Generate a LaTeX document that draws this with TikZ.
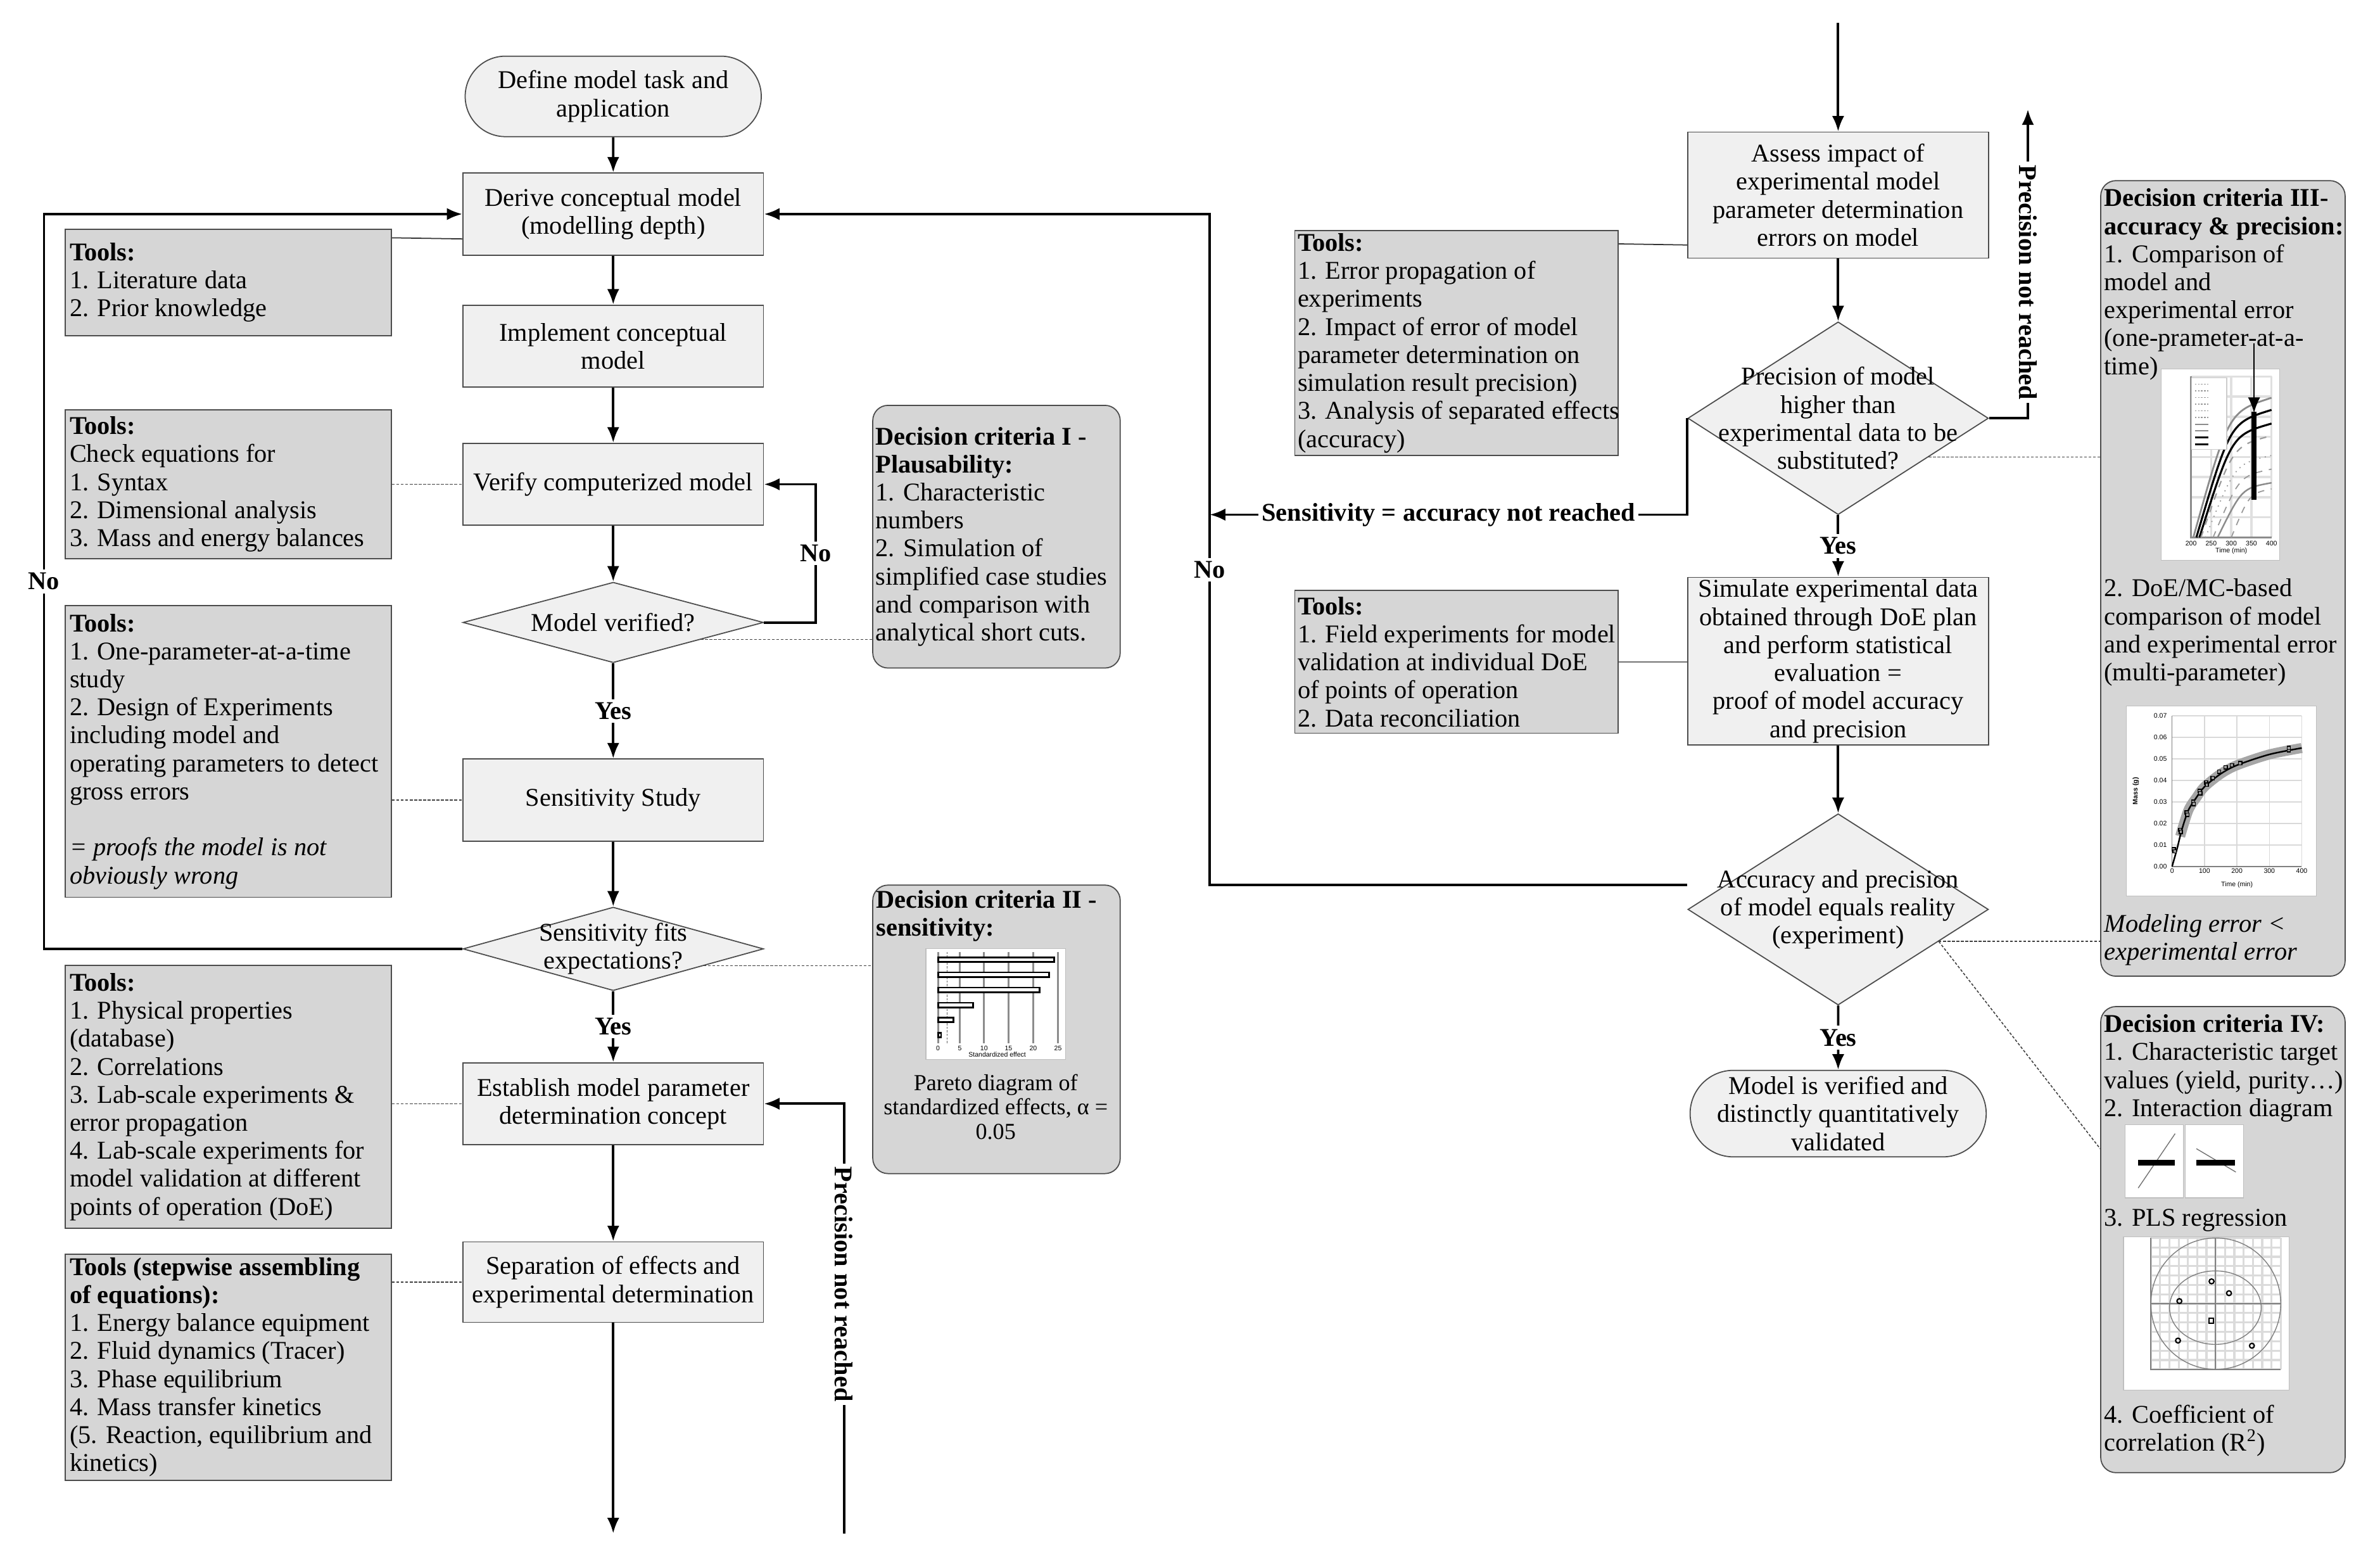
\documentclass[tikz,border=0pt]{standalone}
\usepackage{fontspec}
\setmainfont{Liberation Serif}
\newfontfamily\chartfont{Liberation Sans}
\usetikzlibrary{arrows.meta,shapes.geometric,shapes.misc,calc}
\newlength\pxu
\setlength\pxu{0.024cm}
\newcommand\myfs{\fontsize{11.5}{12.6}\selectfont}
\newcommand\myfsc{\fontsize{10.3}{11}\selectfont}
\newcommand\mytiny{\chartfont\fontsize{3}{3.5}\selectfont}
\tikzset{
  proc/.style={draw=black!70, line width=0.5pt, fill=black!6, minimum width=198\pxu, minimum height=54\pxu, align=center, font=\myfs, inner sep=1pt},
  term/.style={proc, rounded rectangle},
  dia/.style={diamond, draw=black!70, line width=0.5pt, fill=black!6, inner sep=0pt},
  dtxt/.style={align=center, font=\myfs, inner sep=0pt},
  toolbox/.style={draw=black!70, line width=0.5pt, fill=black!16, inner sep=0pt},
  crit/.style={draw=black!70, line width=0.5pt, fill=black!16, rounded corners=10\pxu, inner sep=0pt},
  ctxt/.style={align=left, font=\myfs, inner sep=0pt},
  flow/.style={line width=1.1pt, -{Latex[length=7pt,width=5.5pt]}},
  lbl/.style={font=\myfs\bfseries, fill=white, inner sep=1.5pt},
  dotc/.style={line width=0.45pt, draw=black!75, dash pattern=on 1.2pt off 0.8pt},
  thinc/.style={line width=0.5pt, draw=black!80},
  chartbg/.style={fill=white, draw=black!25, line width=0.3pt, inner sep=0pt},
}
\begin{document}
\begin{tikzpicture}[x=0.024cm,y=-0.024cm]
\fill[white] (0,0) rectangle (1568,1030);
\useasboundingbox (0,0) rectangle (1568,1030);

% ---------------- left column ----------------
\node[term, minimum height=53\pxu] (start) at (404,63.5) {Define model task and\\application};
\node[proc] (derive) at (404,141) {Derive conceptual model\\(modelling depth)};
\node[proc] (impl) at (404,228) {Implement conceptual\\model};
\node[proc] (verify) at (404,319) {Verify computerized model};
\node[dia, minimum width=198\pxu, minimum height=53\pxu] (dv) at (404,410) {};
\node[dtxt] (dvt) at (dv) {Model verified?};
\node[proc] (sens) at (404,527) {Sensitivity Study};
\node[dia, minimum width=198\pxu, minimum height=55\pxu] (ds) at (404,625) {};
\node[dtxt] (dst) at (ds) {Sensitivity fits\\expectations?};
\node[proc] (est) at (404,727) {Establish model parameter\\determination concept};
\node[proc, minimum height=53\pxu] (sep) at (404,844.5) {Separation of effects and\\experimental determination};
\coordinate (lbot) at (404,1010);
\coordinate (pbot) at (556,1010);

% ---------------- right column ----------------
\coordinate (rtop) at (1211,15);
\node[proc, minimum height=83\pxu] (assess) at (1211,128.5) {Assess impact of\\experimental model\\parameter determination\\errors on model};
\node[dia, minimum width=198\pxu, minimum height=127\pxu] (dp) at (1211,275.5) {};
\node[dtxt] (dpt) at (dp) {Precision of model\\higher than\\experimental data to be\\substituted?};
\node[proc, minimum height=109\pxu] (sim) at (1211,435.5) {Simulate experimental data\\obtained through DoE plan\\and perform statistical\\evaluation =\\proof of model accuracy\\and precision};
\node[dia, minimum width=198\pxu, minimum height=126\pxu] (da) at (1211,599) {};
\node[dtxt] (dat) at (da) {Accuracy and precision\\of model equals reality\\(experiment)};
\node[term, minimum height=57\pxu] (fin) at (1211,733.5) {Model is verified and\\distinctly quantitatively\\validated};
\coordinate (rtopp) at (1336,72);
\coordinate (sacc) at (797,339);

% ---------------- tools boxes ----------------
\node[toolbox, minimum width=215\pxu, minimum height=70\pxu] (t1) at (150.5,186) {};
\node[ctxt, anchor=west] (t1x) at ([xshift=3\pxu]t1.west) {\textbf{Tools:}\\1. Literature data\\2. Prior knowledge};
\node[toolbox, minimum width=215\pxu, minimum height=98\pxu] (t2) at (150.5,319) {};
\node[ctxt, anchor=west] (t2x) at ([xshift=3\pxu]t2.west) {\textbf{Tools:}\\Check equations for\\1. Syntax\\2. Dimensional analysis\\3. Mass and energy balances};
\node[toolbox, minimum width=215\pxu, minimum height=192\pxu] (t3) at (150.5,495) {};
\node[ctxt, anchor=west] (t3x) at ([xshift=3\pxu]t3.west) {\textbf{Tools:}\\1. One-parameter-at-a-time\\study\\2. Design of Experiments\\including model and\\operating parameters to detect\\gross errors\\\mbox{}\\\textit{= proofs the model is not}\\\textit{obviously wrong}};
\node[toolbox, minimum width=215\pxu, minimum height=173\pxu] (t4) at (150.5,722.5) {};
\node[ctxt, anchor=west] (t4x) at ([xshift=3\pxu]t4.west) {\textbf{Tools:}\\1. Physical properties\\(database)\\2. Correlations\\3. Lab-scale experiments \&\\error propagation\\4. Lab-scale experiments for\\model validation at different\\points of operation (DoE)};
\node[toolbox, minimum width=215\pxu, minimum height=149\pxu] (t5) at (150.5,900.5) {};
\node[ctxt, anchor=west] (t5x) at ([xshift=3\pxu]t5.west) {\textbf{Tools (stepwise assembling}\\\textbf{of equations):}\\1. Energy balance equipment\\2. Fluid dynamics (Tracer)\\3. Phase equilibrium\\4. Mass transfer kinetics\\(5. Reaction, equilibrium and\\kinetics)};
\node[toolbox, minimum width=213\pxu, minimum height=148\pxu] (rt1) at (959.5,226) {};
\node[ctxt, anchor=west] (rt1x) at ([xshift=2\pxu]rt1.west) {\textbf{Tools:}\\1. Error propagation of\\experiments\\2. Impact of error of model\\parameter determination on\\simulation result precision)\\3. Analysis of separated effects\\(accuracy)};
\node[toolbox, minimum width=213\pxu, minimum height=94\pxu] (rt2) at (959.5,436) {};
\node[ctxt, anchor=west] (rt2x) at ([xshift=2\pxu]rt2.west) {\textbf{Tools:}\\1. Field experiments for model\\validation at individual DoE\\of points of operation\\2. Data reconciliation};

% ---------------- decision criteria boxes ----------------
\node[crit, minimum width=163\pxu, minimum height=173\pxu] (c1) at (656.5,353.5) {};
\node[ctxt, anchor=west] (c1x) at ([xshift=2\pxu]c1.west) {\textbf{Decision criteria I -}\\\textbf{Plausability:}\\1. Characteristic\\numbers\\2. Simulation of\\simplified case studies\\and comparison with\\analytical short cuts.};

\node[crit, minimum width=163\pxu, minimum height=190\pxu] (c2) at (656.5,678) {};
\node[ctxt, anchor=north west] (c2h) at (577,586) {\textbf{Decision criteria II -}\\\textbf{sensitivity:}};
\node[align=center, font=\myfsc, inner sep=0pt] (c2c) at (656,729) {Pareto diagram of\\standardized effects, α =\\0.05};
% Pareto chart
\node[chartbg, minimum width=92\pxu, minimum height=73\pxu] (pa) at (656,661.5) {};
\foreach \gx in {618,632.3,648.3,664.4,680.7,697} \draw[black!45, line width=0.9pt] (\gx,627) -- (\gx,687);
\draw[black!60, dash pattern=on 1pt off 0.6pt, line width=0.4pt] (624,627) -- (624,687);
\foreach \by/\bx in {632/694.6, 642/691, 652/685, 662/641, 671.7/628, 681.7/620}
  \draw[fill=white, line width=0.8pt] (618,\by-1.5) rectangle (\bx,\by+1.5);
\foreach \gx/\lab [count=\i] in {618/0,632.3/5,648.3/10,664.4/15,680.7/20,697/25}
  \node[font=\mytiny, inner sep=0.2pt] (pax\i) at (\gx,690.5) {\lab};
\node[font=\mytiny, inner sep=0.2pt] (paxl) at (657,694.8) {Standardized effect};

\node[crit, minimum width=161\pxu, minimum height=524\pxu] (c3) at (1464.5,381) {};
\node[ctxt, anchor=north west] (c3a) at (1386,124) {\textbf{Decision criteria III-}\\\textbf{accuracy \& precision:}\\1. Comparison of\\model and\\experimental error\\(one-prameter-at-a-\\time)};
\node[ctxt, anchor=north west] (c3b) at (1386,381) {2. DoE/MC-based\\comparison of model\\and experimental error\\(multi-parameter)};
\node[ctxt, anchor=north west] (c3c) at (1386,602) {\itshape Modeling error <\\\itshape experimental error};

% chart B (one-parameter-at-a-time)
\node[chartbg, minimum width=78\pxu, minimum height=126\pxu] (pb) at (1463,306) {};
\foreach \gx in {1443.5,1456.75,1470,1483.25,1496.5} \draw[black!12, line width=1pt] (\gx,248) -- (\gx,354);
\foreach \k in {0,...,8} \draw[black!12, line width=1pt] (1443.5,248+13.25*\k) -- (1496.5,248+13.25*\k);
\draw[black!45, line width=0.8pt] (1443.5,248) -- (1443.5,354) -- (1496.5,354);
\foreach \xs/\ye/\cl/\lw/\ds in {1445/262/black!45/0.8/solid, 1447/270/black/0.9/solid, 1449/279/black/0.9/solid, 1450/287/black!40/0.6/dashed, 1453/300/black!40/0.5/dotted, 1458/309/black!40/0.5/dashed, 1461/318/black!45/0.7/solid, 1470/322/black!40/0.5/dashed}
  \draw[\cl, line width=\lw pt, \ds] (\xs,354) .. controls ({\xs+0.45*(1496.5-\xs)},{\ye+0.1*(354-\ye)}) .. (1496.5,\ye);
\draw[fill=white, draw=black!20, line width=0.3pt] (1444,249) rectangle (1467,296);
\foreach \k in {0,...,5} \draw[black!40, line width=0.4pt, dash pattern=on 0.8pt off 0.6pt] (1446,253+4.4*\k) -- (1455,253+4.4*\k);
\foreach \k in {6,7} \draw[black!45, line width=0.6pt] (1446,253+4.4*\k) -- (1455,253+4.4*\k);
\foreach \k in {8,9} \draw[black, line width=0.7pt] (1446,253+4.4*\k) -- (1455,253+4.4*\k);
\draw[line width=2.2pt] (1485,271) -- (1485,329);
\draw[line width=0.6pt, -{Latex[length=7pt,width=5.5pt]}] (1485,226) -- (1485,272);
\foreach \v [count=\i] in {200,250,300,350,400}
  \node[font=\mytiny, inner sep=0.3pt] (bx\i) at (1443.5+13.25*\i-13.25,358) {\v};
\node[font=\mytiny, inner sep=0.3pt] (bxl) at (1470,363) {Time (min)};

% chart C (multi-parameter)
\node[chartbg, minimum width=125\pxu, minimum height=125\pxu] (pc) at (1463.5,527.5) {};
\begin{scope}[shift={(1431,570.7)}, x=0.00513cm, y=34.05cm]
  \foreach \tm in {0,100,200,300,400} \draw[black!15, line width=0.4pt] (\tm,0) -- (\tm,0.07);
  \foreach \k in {0,...,7} \draw[black!15, line width=0.4pt] (0,\k/100) -- (400,\k/100);
  \draw[black!50, line width=0.4pt] (0,0.07) -- (0,0) -- (400,0);
  \draw[black!35, line width=4.5pt] plot[smooth] coordinates {(25,0.014) (50,0.026) (75,0.032) (100,0.037) (150,0.043) (200,0.047) (300,0.052) (400,0.055)};
  \draw[line width=0.7pt] plot[smooth] coordinates {(0,0) (15,0.008) (30,0.017) (50,0.026) (75,0.032) (100,0.037) (150,0.043) (200,0.047) (300,0.052) (400,0.055)};
  \foreach \tm/\mm in {5/0.008,8/0.007,25/0.017,27/0.016,45/0.025,47/0.024,65/0.030,67/0.029,85/0.035,87/0.034,105/0.039,107/0.038,125/0.041,145/0.044,165/0.046,185/0.047,210/0.048,360/0.054,360/0.055}
    \draw[fill=black!40, line width=0.4pt] (\tm,\mm) ++(-1.1\pxu,-1.1\pxu) rectangle ++(2.2\pxu,2.2\pxu);
  \foreach \k in {0,...,7} \node[font=\mytiny, anchor=east, inner sep=0.4pt] (cy\k) at (-12,\k/100) {0.0\k};
  \foreach \tm in {0,100,200,300,400} \node[font=\mytiny, anchor=north, inner sep=0.8pt] (cx\tm) at (\tm,0) {\tm};
  \node[font=\mytiny, inner sep=0pt] (cxl) at (200,-0.0085) {Time (min)};
  \node[font=\mytiny\bfseries, rotate=90, inner sep=0pt] (cyl) at (-112,0.035) {Mass (g)};
\end{scope}

\node[crit, minimum width=161\pxu, minimum height=307\pxu] (c4) at (1464.5,816.5) {};
\node[ctxt, anchor=north west] (c4a) at (1386,668) {\textbf{Decision criteria IV:}\\1. Characteristic target\\values (yield, purity\dots)\\2. Interaction diagram};
\node[ctxt, anchor=north west] (c4b) at (1386,796) {3. PLS regression};
\node[ctxt, anchor=north west] (c4c) at (1386,925) {4. Coefficient of\\correlation (R\textsuperscript{2})};

% chart D (interaction)
\node[chartbg, minimum width=38.5\pxu, minimum height=48\pxu] (pd1) at (1419.25,765) {};
\node[chartbg, minimum width=38.5\pxu, minimum height=48\pxu] (pd2) at (1458.75,765) {};
\draw[black!55, line width=0.4pt] (1408.7,782.5) -- (1433,746.7);
\draw[line width=2.6pt] (1408.7,766) -- (1433,766);
\draw[black!55, line width=0.4pt] (1447,756.6) -- (1473,772);
\draw[line width=2.6pt] (1447,766) -- (1472.5,766);

% chart E (PLS)
\node[chartbg, minimum width=109\pxu, minimum height=101\pxu] (pe) at (1453.5,865) {};
\foreach \k in {0,...,14} {
  \draw[black!14, line width=0.9pt] (1417+6.114*\k,815.4) -- (1417+6.114*\k,902);
  \draw[black!14, line width=0.9pt] (1417,815.4+6.186*\k) -- (1502.6,815.4+6.186*\k);
}
\draw[black!50, line width=0.5pt] (1417,815.4) -- (1417,902) -- (1502.6,902);
\draw[black!50, line width=0.4pt] (1417,858.6) -- (1502.6,858.6) (1459.5,815.4) -- (1459.5,902);
\draw[black!50, line width=0.4pt] (1459.8,858.7) ellipse [x radius=42.8, y radius=43.3];
\draw[black!50, line width=0.4pt] (1459.5,861.3) ellipse [x radius=30.2, y radius=24.2];
\foreach \px/\py in {1435.8/857, 1457/844, 1468.5/851.8, 1434.9/883, 1483.6/886.4}
  \draw[line width=0.6pt] (\px,\py) circle [radius=1.6];
\draw[line width=0.6pt] (1455.2,868.4) rectangle (1458.2,871.6);

% ---------------- main connectors ----------------
\draw[flow] (start) -- (derive);
\draw[flow] (derive) -- (impl);
\draw[flow] (impl) -- (verify);
\draw[flow] (verify) -- (dv);
\draw[flow] (dv) -- node[lbl]{Yes} (sens);
\draw[flow] (sens) -- (ds);
\draw[flow] (ds) -- node[lbl]{Yes} (est);
\draw[flow] (est) -- (sep);
\draw[flow] (sep) -- (lbot);
\draw[flow] (dv.east) -- ++(34,0) |- node[lbl, pos=0.25]{No} (verify.east);
\draw[flow] (ds.west) -- (29,625) -- node[lbl]{No} (29,141) -- (derive.west);
\draw[flow] (pbot) -- node[lbl, rotate=-90, pos=0.58]{Precision not reached} (pbot |- est.east) -- (est.east);

\draw[flow] (rtop) -- (assess);
\draw[flow] (assess) -- (dp);
\draw[flow] (dp) -- node[lbl]{Yes} (sim);
\draw[flow] (sim) -- (da);
\draw[flow] (da) -- node[lbl]{Yes} (fin);
\draw[flow] (dp.east) -- (dp.east -| rtopp) -- node[lbl, rotate=-90, pos=0.44]{Precision not reached} (rtopp);
\draw[flow] (dp.west) |- node[lbl, pos=0.75]{Sensitivity = accuracy not reached} (sacc);
\draw[flow] ($(da.west)+(0,-16)$) -- (797,583) -- node[lbl, pos=0.47]{No} (797,141) -- (derive.east);

% ---------------- annotation connectors ----------------
\draw[thinc] ($(t1.north east)+(0,6)$) -- ($(derive.south west)+(0,-11)$);
\draw[dotc] (t2.east) -- (verify.west);
\draw[dotc] (t3.east |- sens.west) -- (sens.west);
\draw[dotc] (t4.east |- est.west) -- (est.west);
\draw[dotc] (t5.east |- sep.west) -- (sep.west);
\draw[thinc] ($(rt1.north east)+(0,9)$) -- ($(assess.south west)+(0,-9)$);
\draw[thinc, draw=black!55] (rt2.east) -- (rt2.east -| sim.west);
\draw[dotc] ($(dv.east)!0.42!(dv.south)$) coordinate (dvp) -- (dvp -| c1.west);
\draw[dotc] ($(ds.east)!0.4!(ds.south)$) coordinate (dsp) -- (dsp -| c2.west);
\draw[dotc] ($(dp.east)!0.4!(dp.south)$) coordinate (dpp) -- (dpp -| c3.west);
\coordinate (dap) at ($(da.east)!0.333!(da.south)$);
\draw[dotc] (dap) -- (dap -| c3.west);
\draw[dotc] (dap) -- ($(c4.north west)+(0,94)$);
\end{tikzpicture}
\end{document}
